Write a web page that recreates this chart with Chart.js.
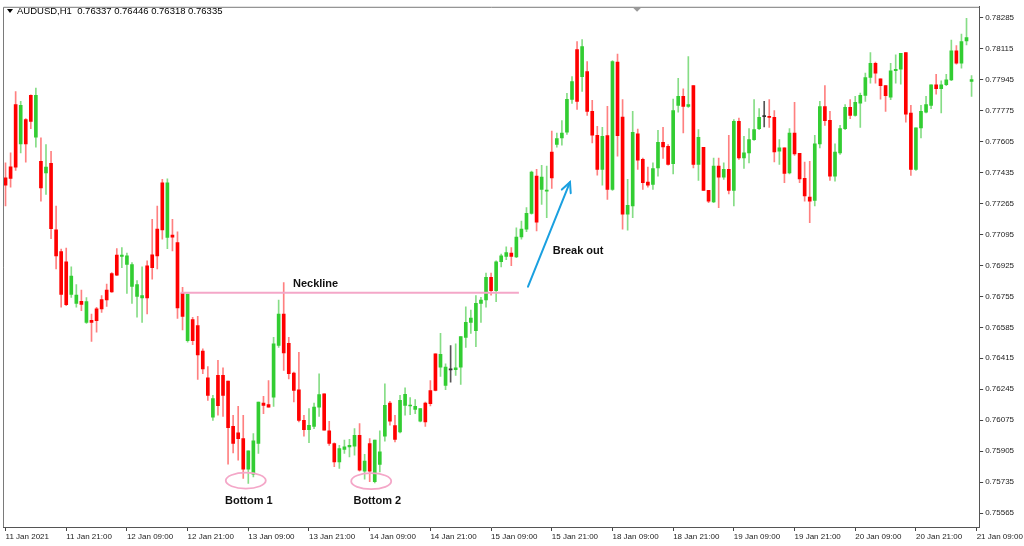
<!DOCTYPE html>
<html><head><meta charset="utf-8">
<script src="https://cdn.jsdelivr.net/npm/chart.js@4/dist/chart.umd.min.js"></script>
<style>html,body{margin:0;padding:0;background:#fff;overflow:hidden}#wrap{width:1024px;height:546px;position:relative}</style>
</head><body><div id="wrap"><canvas id="c" width="1024" height="546"></canvas></div>
<script>
const symbolTitle = "AUDUSD,H1  0.76337 0.76446 0.76318 0.76335";
const tickLabels = ["11 Jan 2021","11 Jan 21:00","12 Jan 09:00","12 Jan 21:00","13 Jan 09:00","13 Jan 21:00","14 Jan 09:00","14 Jan 21:00","15 Jan 09:00","15 Jan 21:00","18 Jan 09:00","18 Jan 21:00","19 Jan 09:00","19 Jan 21:00","20 Jan 09:00","20 Jan 21:00","21 Jan 09:00"];
const yTicks = [0.75565,0.75735,0.75905,0.76075,0.76245,0.76415,0.76585,0.76755,0.76925,0.77095,0.77265,0.77435,0.77605,0.77775,0.77945,0.78115,0.78285];
const yMin = 0.754883, yMax = 0.783452;

const opens = [0.77406,0.77466,0.77808,0.77592,0.77726,0.77859,0.77629,0.77496,0.77433,0.77486,
0.77121,0.77001,0.76945,0.76766,0.76716,0.76727,0.76612,0.76623,0.76686,0.76737,
0.76790,0.76880,0.76981,0.76974,0.76930,0.76809,0.76755,0.76746,0.76923,0.76983,
0.77124,0.77379,0.77078,0.77091,0.77050,0.76771,0.76512,0.76627,0.76594,0.76454,
0.76308,0.76092,0.76321,0.76321,0.76289,0.76041,0.76005,0.75974,0.75806,0.75779,
0.75947,0.76169,0.76160,0.76202,0.76485,0.76658,0.76497,0.76333,0.76242,0.76074,
0.76023,0.76041,0.76147,0.76220,0.76016,0.75947,0.75846,0.75914,0.75928,0.75932,
0.75992,0.75795,0.75947,0.75737,0.75832,0.75987,0.76169,0.76045,0.76010,0.76156,
0.76153,0.76134,0.76069,0.76169,0.76238,0.76439,0.76366,0.76266,0.76351,0.76352,
0.76366,0.76530,0.76612,0.76567,0.76716,0.76735,0.76859,0.76786,0.76946,0.76974,
0.76992,0.76972,0.77081,0.77124,0.77211,0.77415,0.77342,0.77333,0.77547,0.77589,
0.77625,0.77656,0.77837,0.78110,0.77962,0.77990,0.77771,0.77640,0.77452,0.77638,
0.77342,0.78041,0.77740,0.77206,0.77251,0.77647,0.77507,0.77382,0.77370,0.77461,
0.77601,0.77579,0.77483,0.77804,0.77853,0.77798,0.77913,0.77479,0.77574,0.77337,
0.77273,0.77470,0.77410,0.77452,0.77337,0.77716,0.77515,0.77543,0.77616,0.77676,
0.77742,0.77744,0.77738,0.77552,0.77570,0.77433,0.77652,0.77540,0.77403,0.77300,
0.77282,0.77592,0.77797,0.77722,0.77415,0.77543,0.77676,0.77793,0.77749,0.77816,
0.77859,0.77957,0.78035,0.77950,0.77913,0.77849,0.77995,0.78002,0.78094,0.77762,
0.77452,0.77680,0.77767,0.77804,0.77917,0.77895,0.77917,0.77944,0.78103,0.78035,
0.78158,0.77935];
const highs = [0.77488,0.77543,0.77880,0.77826,0.77731,0.77862,0.77899,0.77625,0.77589,0.77552,
0.77251,0.77014,0.77020,0.76917,0.76819,0.76790,0.76748,0.76658,0.76695,0.76759,
0.76822,0.76886,0.77017,0.77023,0.76992,0.76941,0.76841,0.76917,0.76950,0.77178,
0.77251,0.77397,0.77400,0.77178,0.77110,0.76804,0.76768,0.76640,0.76645,0.76467,
0.76370,0.76211,0.76403,0.76363,0.76289,0.76102,0.76151,0.76102,0.75906,0.76002,
0.76175,0.76206,0.76293,0.76530,0.76735,0.76831,0.76530,0.76339,0.76448,0.76102,
0.76138,0.76169,0.76330,0.76220,0.76069,0.75950,0.75937,0.75965,0.75970,0.76029,
0.76056,0.75887,0.75974,0.75965,0.76016,0.76275,0.76178,0.76102,0.76211,0.76253,
0.76199,0.76188,0.76138,0.76175,0.76293,0.76439,0.76552,0.76385,0.76485,0.76494,
0.76534,0.76698,0.76680,0.76759,0.76749,0.76883,0.76883,0.76950,0.76987,0.77027,
0.77023,0.77132,0.77169,0.77242,0.77443,0.77452,0.77474,0.77470,0.77662,0.77652,
0.77720,0.77870,0.77962,0.78154,0.78165,0.78045,0.77831,0.77689,0.77683,0.77798,
0.78050,0.78085,0.77835,0.77397,0.77771,0.77674,0.77515,0.77465,0.77488,0.77667,
0.77683,0.77589,0.77838,0.77953,0.77895,0.78072,0.77913,0.77671,0.77574,0.77337,
0.77515,0.77515,0.77488,0.77640,0.77726,0.77734,0.77634,0.77676,0.77835,0.77786,
0.77826,0.77835,0.77775,0.77616,0.77570,0.77676,0.77820,0.77540,0.77493,0.77497,
0.77640,0.77826,0.77913,0.77771,0.77592,0.77694,0.77808,0.77835,0.77853,0.77871,
0.77981,0.78094,0.78041,0.77950,0.77913,0.78035,0.78081,0.78090,0.78094,0.77804,
0.77680,0.77804,0.77853,0.77917,0.77975,0.77939,0.77975,0.78163,0.78132,0.78196,
0.78282,0.77968];
const lows = [0.77251,0.77355,0.77446,0.77543,0.77492,0.77676,0.77574,0.77278,0.77315,0.77072,
0.76905,0.76695,0.76704,0.76749,0.76695,0.76676,0.76607,0.76508,0.76558,0.76667,
0.76700,0.76776,0.76868,0.76913,0.76771,0.76716,0.76640,0.76612,0.76658,0.76850,
0.76905,0.77069,0.77017,0.77005,0.76634,0.76571,0.76503,0.76490,0.76299,0.76330,
0.76184,0.76074,0.76102,0.76096,0.75834,0.75895,0.75855,0.75755,0.75728,0.75764,
0.75892,0.76111,0.76147,0.76151,0.76475,0.76348,0.76302,0.76175,0.76065,0.75987,
0.75952,0.76029,0.76096,0.76020,0.75937,0.75819,0.75810,0.75892,0.75873,0.75883,
0.75795,0.75751,0.75737,0.75731,0.75791,0.75959,0.76047,0.75956,0.76005,0.76102,
0.76105,0.76111,0.76065,0.76041,0.76153,0.76235,0.76315,0.76242,0.76284,0.76321,
0.76271,0.76475,0.76552,0.76479,0.76612,0.76695,0.76762,0.76726,0.76917,0.76956,
0.76923,0.76968,0.77069,0.77110,0.77206,0.77114,0.77260,0.77187,0.77348,0.77574,
0.77585,0.77645,0.77815,0.77782,0.77880,0.77749,0.77597,0.77421,0.77366,0.77288,
0.77337,0.77525,0.77124,0.77118,0.77187,0.77452,0.77342,0.77355,0.77342,0.77415,
0.77512,0.77475,0.77428,0.77767,0.77652,0.77793,0.77461,0.77392,0.77337,0.77269,
0.77269,0.77242,0.77397,0.77318,0.77251,0.77507,0.77457,0.77488,0.77611,0.77671,
0.77685,0.77683,0.77493,0.77479,0.77379,0.77428,0.77529,0.77379,0.77278,0.77160,
0.77251,0.77570,0.77694,0.77392,0.77388,0.77534,0.77671,0.77731,0.77744,0.77683,
0.77826,0.77926,0.77926,0.77838,0.77771,0.77835,0.77926,0.77920,0.77712,0.77419,
0.77446,0.77625,0.77762,0.77786,0.77866,0.77762,0.77912,0.77939,0.78030,0.78008,
0.78136,0.77853];
const closes = [0.77366,0.77403,0.77464,0.77804,0.77592,0.77716,0.77859,0.77351,0.77465,0.77127,
0.76977,0.76766,0.76709,0.76866,0.76762,0.76711,0.76726,0.76612,0.76622,0.76686,
0.76735,0.76780,0.76872,0.76981,0.76977,0.76930,0.76819,0.76759,0.76746,0.76913,
0.76977,0.77120,0.77379,0.77080,0.76691,0.76645,0.76768,0.76512,0.76434,0.76357,
0.76211,0.76193,0.76155,0.76211,0.76034,0.75947,0.75974,0.75806,0.75906,0.75961,
0.76175,0.76156,0.76147,0.76494,0.76658,0.76445,0.76330,0.76238,0.76074,0.76023,
0.76047,0.76147,0.76215,0.76020,0.75947,0.75846,0.75919,0.75928,0.75937,0.75992,
0.75801,0.75850,0.75795,0.75965,0.75901,0.76156,0.76069,0.75969,0.76184,0.76217,
0.76156,0.76151,0.76138,0.76065,0.76166,0.76238,0.76436,0.76366,0.76351,0.76363,
0.76534,0.76612,0.76636,0.76716,0.76735,0.76859,0.76786,0.76945,0.76977,0.76995,
0.76974,0.77081,0.77124,0.77211,0.77437,0.77163,0.77410,0.77339,0.77406,0.77622,
0.77652,0.77837,0.77935,0.77826,0.78127,0.77771,0.77640,0.77452,0.77634,0.77342,
0.78045,0.77638,0.77206,0.77255,0.77656,0.77503,0.77379,0.77366,0.77457,0.77601,
0.77576,0.77479,0.77775,0.77853,0.77798,0.77808,0.77479,0.77629,0.77337,0.77278,
0.77470,0.77410,0.77452,0.77337,0.77716,0.77515,0.77543,0.77616,0.77671,0.77738,
0.77742,0.77738,0.77548,0.77570,0.77430,0.77652,0.77537,0.77400,0.77306,0.77278,
0.77592,0.77797,0.77720,0.77415,0.77547,0.77676,0.77793,0.77749,0.77820,0.77859,
0.77957,0.78035,0.77981,0.77912,0.77857,0.77994,0.78002,0.78090,0.77756,0.77452,
0.77680,0.77771,0.77808,0.77917,0.77895,0.77917,0.77944,0.78103,0.78035,0.78154,
0.78176,0.77946];

// annotations (category index / price anchors)
const necklinePrice = 0.76775, necklineFrom = 34.6, necklineTo = 101.5;
const necklineLabel = {text:"Neckline", idx:61.3, price:0.76824};
const bottoms = [
  {idx:47.5, price:0.75743, text:"Bottom 1", textIdx:48.1, textPrice:0.75631},
  {idx:72.3, price:0.75740, text:"Bottom 2", textIdx:73.5, textPrice:0.75631}
];
const breakout = {text:"Break out", idx:113.2, price:0.77005};
const arrow = {fromIdx:103.3, fromPrice:0.76808, toIdx:111.6, toPrice:0.77382};

const TICK_EVERY = 12;
const categories = Array.from({length:(tickLabels.length-1)*TICK_EVERY+1}, (_, i) => i % TICK_EVERY === 0 ? tickLabels[i/TICK_EVERY] : '');

const UP = '#32cd32', DOWN = '#ff0000', FLAT = '#333333';
const UP_W = '#86dd86', DOWN_W = '#ff8080', FLAT_W = '#555555';
const bodyColors = opens.map((o,i)=> closes[i]>o ? UP : closes[i]<o ? DOWN : FLAT);
const wickColors = opens.map((o,i)=> closes[i]>o ? UP_W : closes[i]<o ? DOWN_W : FLAT_W);

const PINK = '#f4a7c8', BLUE = '#1aa0e0';
const annot = {
  id:'annot',
  beforeDraw(chart){
    const c = chart.ctx; c.save(); c.fillStyle='#fff'; c.fillRect(0,0,chart.width,chart.height); c.restore();
  },
  afterDatasetsDraw(chart){
    const c = chart.ctx, x = chart.scales.x, y = chart.scales.y;
    c.save();
    c.strokeStyle = PINK; c.lineWidth = 2;
    c.beginPath();
    c.moveTo(x.getPixelForValue(necklineFrom), y.getPixelForValue(necklinePrice));
    c.lineTo(x.getPixelForValue(necklineTo), y.getPixelForValue(necklinePrice));
    c.stroke();
    c.lineWidth = 1.8;
    bottoms.forEach(b=>{
      c.beginPath();
      c.ellipse(x.getPixelForValue(b.idx), y.getPixelForValue(b.price), 20, 8, 0, 0, Math.PI*2);
      c.stroke();
    });
    c.fillStyle = '#111'; c.font = 'bold 11px "Liberation Sans", Arial, sans-serif';
    c.textAlign = 'center'; c.textBaseline = 'middle';
    c.fillText(necklineLabel.text, x.getPixelForValue(necklineLabel.idx), y.getPixelForValue(necklineLabel.price));
    bottoms.forEach(b=> c.fillText(b.text, x.getPixelForValue(b.textIdx), y.getPixelForValue(b.textPrice)));
    c.fillText(breakout.text, x.getPixelForValue(breakout.idx), y.getPixelForValue(breakout.price));
    const x1 = x.getPixelForValue(arrow.fromIdx), y1 = y.getPixelForValue(arrow.fromPrice);
    const x2 = x.getPixelForValue(arrow.toIdx), y2 = y.getPixelForValue(arrow.toPrice);
    c.strokeStyle = BLUE; c.lineWidth = 2; c.lineCap = 'round';
    c.beginPath(); c.moveTo(x1,y1); c.lineTo(x2,y2); c.stroke();
    const ang = Math.atan2(y2-y1, x2-x1), L = 11;
    c.beginPath();
    c.moveTo(x2 - L*Math.cos(ang-0.45), y2 - L*Math.sin(ang-0.45));
    c.lineTo(x2, y2);
    c.lineTo(x2 - L*Math.cos(ang+0.45), y2 - L*Math.sin(ang+0.45));
    c.stroke();
    c.restore();
  },
  afterDraw(chart){
    const c = chart.ctx, a = chart.chartArea;
    c.save();
    c.strokeStyle = '#7a7a7a'; c.lineWidth = 1;
    c.beginPath();
    c.moveTo(a.left+0.5, a.bottom); c.lineTo(a.left+0.5, a.top+0.5); c.lineTo(a.right, a.top+0.5);
    c.stroke();
    c.fillStyle = '#000'; c.font = '9.5px "Liberation Sans", Arial, sans-serif';
    c.textBaseline = 'middle'; c.textAlign = 'left';
    c.beginPath(); c.moveTo(7,9); c.lineTo(13,9); c.lineTo(10,13); c.closePath(); c.fill();
    c.fillText(symbolTitle, 17, 11.5);
    const mx = (a.left + a.right)/2 + 146;
    c.fillStyle = '#9a9a9a';
    c.beginPath(); c.moveTo(mx-4, a.top+1); c.lineTo(mx+4, a.top+1); c.lineTo(mx, a.top+5); c.closePath(); c.fill();
    c.restore();
  }
};

const tickFont = {family:'"Liberation Sans", Arial, sans-serif', size:8};
new Chart(document.getElementById('c'), {
  type:'bar',
  data:{
    labels: categories,
    datasets:[
      {label:'wick', data: lows.map((l,i)=>[l, highs[i]]), backgroundColor: wickColors, barThickness:1, grouped:false, order:2, minBarLength:1, borderWidth:0},
      {label:'body', data: opens.map((o,i)=>[o, closes[i]]), backgroundColor: bodyColors, barThickness:3, grouped:false, order:1, minBarLength:1, borderWidth:0}
    ]
  },
  options:{
    responsive:false, animation:false, devicePixelRatio:1,
    layout:{padding:{left:3, top:5, right:0, bottom:0}},
    plugins:{legend:{display:false}, tooltip:{enabled:false}},
    scales:{
      x:{
        offset:true,
        grid:{display:true, drawOnChartArea:false, offset:false, tickLength:4, color: ctx => (ctx.index % TICK_EVERY === 0 ? '#444' : 'rgba(0,0,0,0)')},
        border:{display:true, color:'#555'},
        ticks:{autoSkip:false, maxRotation:0, minRotation:0, align:'start', padding:1, font:tickFont, color:'#222', callback:(v,i)=>categories[i]},
        afterFit: s => { s.height = 19; }
      },
      y:{
        position:'right', min:yMin, max:yMax,
        grid:{drawOnChartArea:false, tickLength:4, color:'#444'},
        border:{display:true, color:'#555'},
        ticks:{font:tickFont, color:'#222', padding:2, callback:v=>Number(v).toFixed(5)},
        afterBuildTicks: s => { s.ticks = yTicks.map(v=>({value:v})); },
        afterFit: s => { s.width = 43; }
      }
    }
  },
  plugins:[annot]
});
</script>
</body></html>
